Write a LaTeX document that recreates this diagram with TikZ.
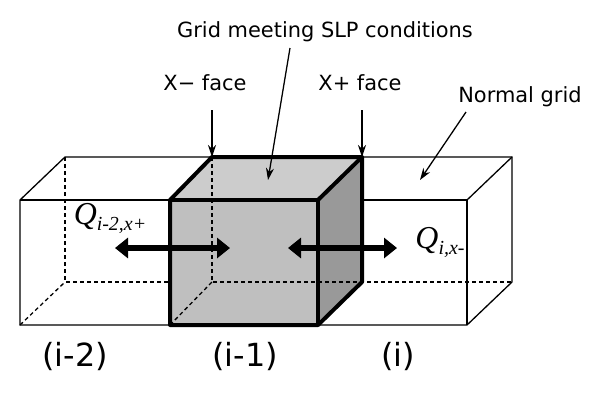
\documentclass[tikz,border=0pt]{standalone}
\usepackage{fontspec}
\setmainfont{DejaVu Sans}
\newfontfamily\qfont{Liberation Serif}
\begin{document}
\begin{tikzpicture}[x=1bp,y=-1bp,
  thin/.style={line width=1.3bp},
  thick3/.style={line width=4bp},
  dsh/.style={line width=1.3bp,dashed,dash pattern=on 4bp off 3bp},
  lbl/.style={font=\fontsize{21}{25}\selectfont},
  big/.style={font=\fontsize{32}{36}\selectfont},
  ptr/.style={line width=1.3bp,-{Stealth[length=12bp,width=8bp]}},
  flow/.style={line width=6bp,{Triangle[length=13bp,width=20bp]}-{Triangle[length=13bp,width=20bp]}}]
\useasboundingbox (0,0) rectangle (614,400);
\usetikzlibrary{arrows.meta}
\coordinate (fa) at (20,200); \coordinate (fb) at (170,200); \coordinate (fc) at (318,200); \coordinate (fd) at (467,200);
\coordinate (ga) at (20,325); \coordinate (gb) at (170,325); \coordinate (gc) at (318,325); \coordinate (gd) at (467,325);
\coordinate (ba) at (65,157); \coordinate (bb) at (212,157); \coordinate (bc) at (362,157); \coordinate (bd) at (512,157);
\coordinate (ca) at (65,282); \coordinate (cb) at (212,282); \coordinate (cc) at (362,282); \coordinate (cd) at (512,282);
\draw[thin] (fa) -- (ba) -- (bd) -- (cd) -- (gd) -- (ga) -- cycle;
\draw[thin] (fa) -- (fd) -- (gd); \draw[thin] (fd) -- (bd);
\draw[dsh] (ba) -- (ca) -- (cd); \draw[dsh] (ga) -- (ca);
\fill[black!20] (fb) -- (bb) -- (bc) -- (fc) -- cycle;
\fill[black!40] (fc) -- (bc) -- (cc) -- (gc) -- cycle;
\fill[black!25] (fb) rectangle (gc);
\draw[dsh] (bb) -- (cb) -- (cc); \draw[dsh] (gb) -- (cb);
\draw[thick3,line join=round] (fb) -- (bb) -- (bc) -- (cc) -- (gc) -- (gb) -- cycle;
\draw[thick3] (fb) -- (fc) -- (gc); \draw[thick3] (fc) -- (bc);
\coordinate (l1) at (115,248); \coordinate (l2) at (230,248);
\coordinate (r1) at (288,248); \coordinate (r2) at (397,248);
\draw[flow] (l1) -- (l2);
\draw[flow] (r1) -- (r2);
\node[font=\qfont\itshape\fontsize{32}{36}\selectfont,inner sep=0] (q1) at (110,218) {Q\fontsize{20}{24}\selectfont\raisebox{-6bp}{i-2,x+}};
\node[font=\qfont\itshape\fontsize{32}{36}\selectfont,inner sep=0] (q2) at (440,242) {Q\fontsize{20}{24}\selectfont\raisebox{-6bp}{i,x-}};
\node[lbl] (t1) at (325,32) {Grid meeting SLP conditions};
\node[lbl] (t2) at (205,83) {X\textminus\ face};
\node[lbl] (t3) at (360,83) {X+ face};
\node[lbl] (t4) at (520,97) {Normal grid};
\coordinate (p1) at (268,180); \coordinate (p4) at (420,180);
\draw[ptr] (290,48) -- (p1);
\draw[ptr] (212,110) -- (bb);
\draw[ptr] (362,110) -- (bc);
\draw[ptr] (466,112) -- (p4);
\node[big] (b1) at (75,356) {(i-2)};
\node[big] (b2) at (245,356) {(i-1)};
\node[big] (b3) at (398,356) {(i)};
\end{tikzpicture}
\end{document}
